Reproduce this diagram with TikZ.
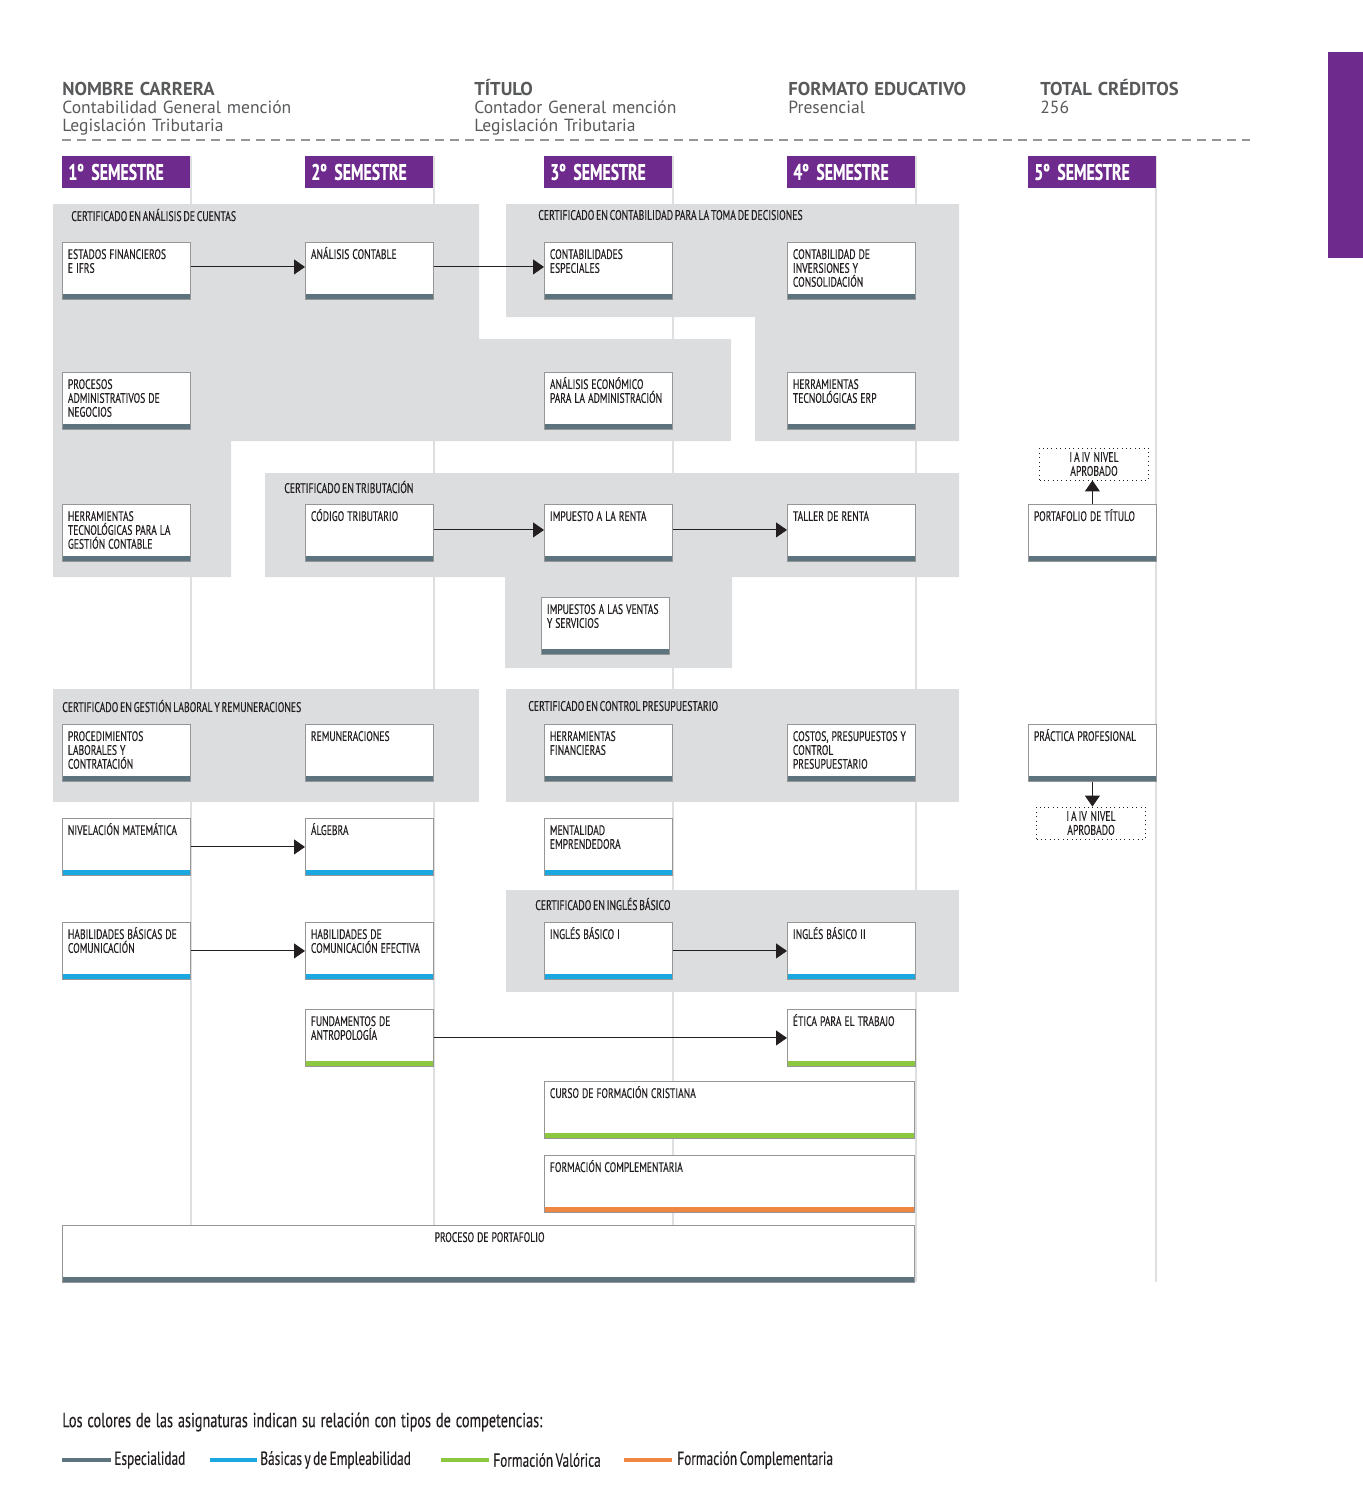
\documentclass[tikz,border=0pt]{standalone}
\usepackage{fontspec}
\setmainfont{PT Sans}
\newfontfamily\cond{PT Sans}[FakeStretch=0.7, WordSpace=0.7, FakeBold=0.25]
\usetikzlibrary{arrows.meta}

\definecolor{semcol}{RGB}{110,42,140}
\definecolor{certgrey}{RGB}{220,221,222}
\definecolor{vgrey}{RGB}{222,223,224}
\definecolor{especial}{RGB}{93,115,126}
\definecolor{basica}{RGB}{27,168,224}
\definecolor{valorica}{RGB}{141,198,63}
\definecolor{complem}{RGB}{240,134,67}
\definecolor{boxline}{RGB}{150,150,150}
\definecolor{ink}{RGB}{35,31,32}
\definecolor{hdrgrey}{RGB}{88,89,91}

\begin{document}
\begin{tikzpicture}[x=0.02cm, y=-0.02cm,
  course/.style={draw=boxline, fill=white, line width=0.5pt, anchor=north west,
    inner xsep=0.06cm, inner ysep=0pt, text width=2.44cm, text height=0.33cm,
    text depth=0.81cm, align=left, text=ink, font=\cond\fontsize{7.8}{7.9}\selectfont,
    execute at begin node={\spaceskip=0.22em\relax\advance\leftskip by 0.05cm\hyphenpenalty=10000\relax},
    path picture={\fill[#1] (path picture bounding box.south west) rectangle
      ([yshift=0.1cm]path picture bounding box.south east);}},
  sem/.style={fill=semcol, text=white, anchor=north west, inner xsep=0.12cm,
    inner ysep=0pt, text width=2.32cm, text height=0.47cm, text depth=0.17cm,
    align=left, font=\cond\bfseries\fontsize{12.8}{12.8}\selectfont},
  cert/.style={anchor=west, inner sep=0pt, text=ink, font=\cond\fontsize{7.9}{8}\selectfont},
  lvl/.style={draw=ink, dotted, line width=0.5pt, minimum width=2.18cm,
    minimum height=0.64cm, inner sep=0pt, align=center, text=ink,
    font=\cond\fontsize{7.9}{7.9}\selectfont},
  hdr/.style={anchor=north west, align=left, inner sep=0pt, text width=6cm,
    text height=0.24cm, text=hdrgrey, font=\fontsize{10}{10.3}\selectfont},
  leg/.style={anchor=west, inner sep=0pt, text=ink, font=\cond\fontsize{10.8}{11}\selectfont},
  arr/.style={draw=ink, line width=0.6pt, -{Triangle[length=0.22cm, width=0.3cm]}},
  vline/.style={draw=vgrey, line width=1.4pt},
  legbar/.style={line width=0.08cm}]
\useasboundingbox (0,0) rectangle (1363,1499);

% header
\fill[semcol] (1328,52) rectangle (1363,258);
\node[hdr] (hcar) at (62,83) {{\bfseries\fontsize{10.6}{10.3}\selectfont NOMBRE CARRERA}\\Contabilidad General mención\\Legislación Tributaria};
\node[hdr] (htit) at (474,83) {{\bfseries\fontsize{10.6}{10.3}\selectfont TÍTULO}\\Contador General mención\\Legislación Tributaria};
\node[hdr] (hfor) at (788,83) {{\bfseries\fontsize{10.6}{10.3}\selectfont FORMATO EDUCATIVO}\\Presencial};
\node[hdr] (hcre) at (1040,83) {{\bfseries\fontsize{10.6}{10.3}\selectfont TOTAL CRÉDITOS}\\256};
\draw[boxline, line width=0.85pt, dash pattern=on 5.1pt off 3.4pt] (62,140) -- (1250,140);

% columns
\draw[vline] (191,156) -- (191,1282);
\draw[vline] (434,156) -- (434,1282);
\draw[vline] (673,156) -- (673,1282);
\draw[vline] (916,156) -- (916,1282);
\draw[vline] (1156,156) -- (1156,1282);

% certificados
\fill[certgrey] (53,204) -- (479,204) -- (479,339) -- (731,339) -- (731,441)
  -- (231,441) -- (231,577) -- (53,577) -- cycle;
\fill[certgrey] (506,204) -- (959,204) -- (959,441) -- (755,441) -- (755,317)
  -- (506,317) -- cycle;
\fill[certgrey] (265,473) -- (959,473) -- (959,577) -- (732,577) -- (732,668)
  -- (505,668) -- (505,577) -- (265,577) -- cycle;
\fill[certgrey] (53,689) rectangle (479,802);
\fill[certgrey] (506,689) rectangle (959,802);
\fill[certgrey] (506,890) rectangle (959,992);
\node[cert] (kcue) at (71,215) {CERTIFICADO EN ANÁLISIS DE CUENTAS};
\node[cert] (kdec) at (538,215) {CERTIFICADO EN CONTABILIDAD PARA LA TOMA DE DECISIONES};
\node[cert] (ktri) at (284,487) {CERTIFICADO EN TRIBUTACIÓN};
\node[cert] (klab) at (62,706) {CERTIFICADO EN GESTIÓN LABORAL Y REMUNERACIONES};
\node[cert] (kpre) at (528,706) {CERTIFICADO EN CONTROL PRESUPUESTARIO};
\node[cert] (king) at (535,904) {CERTIFICADO EN INGLÉS BÁSICO};

% semestres
\node[sem] (s1) at (62,156) {1º SEMESTRE};
\node[sem] (s2) at (305,156) {2º SEMESTRE};
\node[sem] (s3) at (544,156) {3º SEMESTRE};
\node[sem] (s4) at (787,156) {4º SEMESTRE};
\node[sem] (s5) at (1028,156) {5º SEMESTRE};

% asignaturas
\node[course=especial] (efi) at (62,242) {ESTADOS FINANCIEROS\\E IFRS};
\node[course=especial] (acon) at (305,242) {ANÁLISIS CONTABLE};
\node[course=especial] (cesp) at (544,242) {CONTABILIDADES\\ESPECIALES};
\node[course=especial] (cinv) at (787,242) {CONTABILIDAD DE\\INVERSIONES Y\\CONSOLIDACIÓN};
\node[course=especial] (pad) at (62,372) {PROCESOS\\ADMINISTRATIVOS DE\\NEGOCIOS};
\node[course=especial] (aeco) at (544,372) {ANÁLISIS ECONÓMICO\\PARA LA ADMINISTRACIÓN};
\node[course=especial] (herp) at (787,372) {HERRAMIENTAS\\TECNOLÓGICAS ERP};
\node[course=especial] (hgc) at (62,504) {HERRAMIENTAS\\TECNOLÓGICAS PARA LA\\GESTIÓN CONTABLE};
\node[course=especial] (ctri) at (305,504) {CÓDIGO TRIBUTARIO};
\node[course=especial] (irta) at (544,504) {IMPUESTO A LA RENTA};
\node[course=especial] (trta) at (787,504) {TALLER DE RENTA};
\node[course=especial] (ptit) at (1028,504) {PORTAFOLIO DE TÍTULO};
\node[course=especial] (ivs) at (541,597) {IMPUESTOS A LAS VENTAS\\Y SERVICIOS};
\node[course=especial] (plc) at (62,724) {PROCEDIMIENTOS\\LABORALES Y\\CONTRATACIÓN};
\node[course=especial] (rem) at (305,724) {REMUNERACIONES};
\node[course=especial] (hfin) at (544,724) {HERRAMIENTAS\\FINANCIERAS};
\node[course=especial] (cpc) at (787,724) {COSTOS, PRESUPUESTOS Y\\CONTROL\\PRESUPUESTARIO};
\node[course=especial] (ppro) at (1028,724) {PRÁCTICA PROFESIONAL};
\node[course=basica] (nmat) at (62,818) {NIVELACIÓN MATEMÁTICA};
\node[course=basica] (alg) at (305,818) {ÁLGEBRA};
\node[course=basica] (memp) at (544,818) {MENTALIDAD\\EMPRENDEDORA};
\node[course=basica] (hbc) at (62,922) {HABILIDADES BÁSICAS DE\\COMUNICACIÓN};
\node[course=basica] (hce) at (305,922) {HABILIDADES DE\\COMUNICACIÓN EFECTIVA};
\node[course=basica] (ing1) at (544,922) {INGLÉS BÁSICO I};
\node[course=basica] (ing2) at (787,922) {INGLÉS BÁSICO II};
\node[course=valorica] (fant) at (305,1009) {FUNDAMENTOS DE\\ANTROPOLOGÍA};
\node[course=valorica] (etic) at (787,1009) {ÉTICA PARA EL TRABAJO};
\node[course=valorica, text width=7.28cm] (fcri) at (544,1081) {CURSO DE FORMACIÓN CRISTIANA};
\node[course=complem, text width=7.28cm] (fcom) at (544,1155) {FORMACIÓN COMPLEMENTARIA};
\node[course=especial, text width=16.92cm, align=center] (ppor) at (62,1225) {PROCESO DE PORTAFOLIO};

\node[lvl] (niv1) at (1094,464) {I A IV\ \ NIVEL\\APROBADO};
\node[lvl] (niv2) at (1091,823) {I A IV\ \ NIVEL\\APROBADO};

% prerrequisitos
\draw[arr] ([yshift=0.08cm]efi.east) -- ([yshift=0.08cm]acon.west);
\draw[arr] ([yshift=0.08cm]acon.east) -- ([yshift=0.08cm]cesp.west);
\draw[arr] ([yshift=0.06cm]ctri.east) -- ([yshift=0.06cm]irta.west);
\draw[arr] ([yshift=0.06cm]irta.east) -- ([yshift=0.06cm]trta.west);
\draw[arr] (nmat) -- (alg);
\draw[arr] (hbc) -- (hce);
\draw[arr] (ing1) -- (ing2);
\draw[arr] (fant) -- (etic);
\draw[arr] (ptit.north) -- (ptit.north |- niv1.south);
\draw[arr] (ppro.south) -- (ppro.south |- niv2.north);

% leyenda
\node[leg, font=\cond\fontsize{11.6}{12}\selectfont, execute at begin node={\spaceskip=0.24em\relax}] (lint) at (62,1422) {Los colores de las asignaturas indican su relación con tipos de competencias:};
\node[leg] (lesp) at (114,1460) {Especialidad};
\node[leg] (lbas) at (260,1460) {Básicas y de Empleabilidad};
\node[leg] (lval) at (493,1460) {Formación Valórica};
\node[leg] (lcom) at (677,1460) {Formación Complementaria};
\draw[legbar, especial] (62,1460) -- (111,1460);
\draw[legbar, basica] (210,1460) -- (257,1460);
\draw[legbar, valorica] (441,1460) -- (489,1460);
\draw[legbar, complem] (624,1460) -- (672,1460);
\end{tikzpicture}
\end{document}
